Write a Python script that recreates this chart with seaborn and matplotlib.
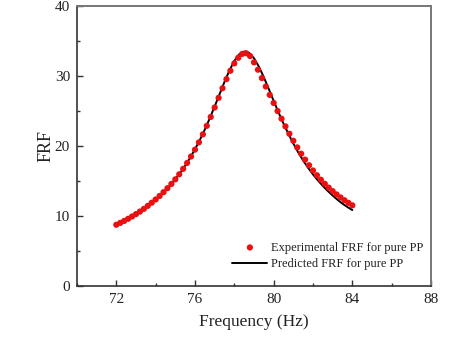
import numpy as np
import pandas as pd
import matplotlib
matplotlib.use("Agg")
import matplotlib.pyplot as plt
from matplotlib.ticker import MultipleLocator
import seaborn as sns

# Experimental FRF (red dots), 0.2 Hz steps from 72 to 84 Hz
exp_freq = np.linspace(72, 84, 61)
exp_frf = [8.75, 9.02, 9.30, 9.60, 9.93, 10.27, 10.63, 11.02, 11.45, 11.90,
           12.36, 12.86, 13.40, 13.97, 14.58, 15.24, 15.96, 16.74, 17.58, 18.50,
           19.48, 20.52, 21.66, 22.88, 24.15, 25.50, 26.88, 28.25, 29.55, 30.75,
           31.80, 32.60, 33.15, 33.25, 32.85, 31.95, 30.90, 29.70, 28.50, 27.30,
           26.15, 25.00, 23.90, 22.80, 21.75, 20.75, 19.80, 18.90, 18.05, 17.25,
           16.50, 15.82, 15.18, 14.60, 14.05, 13.55, 13.08, 12.65, 12.25, 11.88,
           11.52]

# Predicted FRF (black line), 0.25 Hz steps from 72 to 84 Hz
pred_freq = np.linspace(72, 84, 49)
pred_frf = [8.77, 9.11, 9.47, 9.86, 10.28, 10.73, 11.23, 11.76, 12.34, 12.97,
            13.66, 14.42, 15.26, 16.17, 17.18, 18.30, 19.53, 20.88, 22.35, 23.95,
            25.65, 27.41, 29.16, 30.78, 32.15, 33.10, 33.50, 33.31, 32.54, 31.33,
            29.82, 28.16, 26.45, 24.78, 23.20, 21.74, 20.35, 19.08, 17.93, 16.89,
            15.94, 15.08, 14.30, 13.58, 12.92, 12.31, 11.76, 11.28, 10.85]

x_ticks = [72, 76, 80, 84, 88]
y_ticks = [0, 10, 20, 30, 40]

sns.set_theme(style="ticks")
plt.rcParams["font.family"] = ["Liberation Serif", "DejaVu Serif"]

fig = plt.figure(figsize=(4.74, 3.40), dpi=100)
ax = fig.add_axes([0.1624, 0.1588, 0.7469, 0.8236])

df_exp = pd.DataFrame({"f": exp_freq, "y": exp_frf})
df_pred = pd.DataFrame({"f": pred_freq, "y": pred_frf})

sns.lineplot(data=df_pred, x="f", y="y", ax=ax, color="black", linewidth=1.4,
             label="Predicted FRF for pure PP", zorder=2)
sns.scatterplot(data=df_exp, x="f", y="y", ax=ax, color="#e81010", s=20,
                edgecolor="none", label="Experimental FRF for pure PP", zorder=3)

ax.set_xlim(70, 88)
ax.set_ylim(0, 40)
ax.set_xticks(x_ticks)
ax.set_yticks(y_ticks)
ax.xaxis.set_minor_locator(MultipleLocator(2))
ax.yaxis.set_minor_locator(MultipleLocator(5))
ax.tick_params(which="major", direction="in", length=4, width=1.0,
               labelsize=11, colors="#333333", pad=5,
               top=False, right=False)
ax.tick_params(which="minor", direction="in", length=2.5, width=1.0,
               top=False, right=False, colors="#333333")
for lab in ax.get_xticklabels() + ax.get_yticklabels():
    lab.set_color("#222222")

for side in ["left", "bottom"]:
    ax.spines[side].set_color("#333333")
    ax.spines[side].set_linewidth(1.2)
for side in ["top", "right"]:
    ax.spines[side].set_visible(True)
    ax.spines[side].set_color("#777777")
    ax.spines[side].set_linewidth(1.4)

ax.set_xlabel("Frequency (Hz)", fontsize=12.5, color="#222222", labelpad=6)
ax.set_ylabel("FRF", fontsize=13, color="#222222", labelpad=0)

handles, labels = ax.get_legend_handles_labels()
order = [labels.index("Experimental FRF for pure PP"), labels.index("Predicted FRF for pure PP")]
leg = ax.legend([handles[i] for i in order], [labels[i] for i in order],
                loc="lower right", bbox_to_anchor=(1.0, 0.03), frameon=False,
                fontsize=9, handlelength=2.8, handletextpad=0.3,
                labelspacing=0.35, borderaxespad=0.2)
for t in leg.get_texts():
    t.set_color("#222222")

fig.savefig("out.png", dpi=100, facecolor="white")
